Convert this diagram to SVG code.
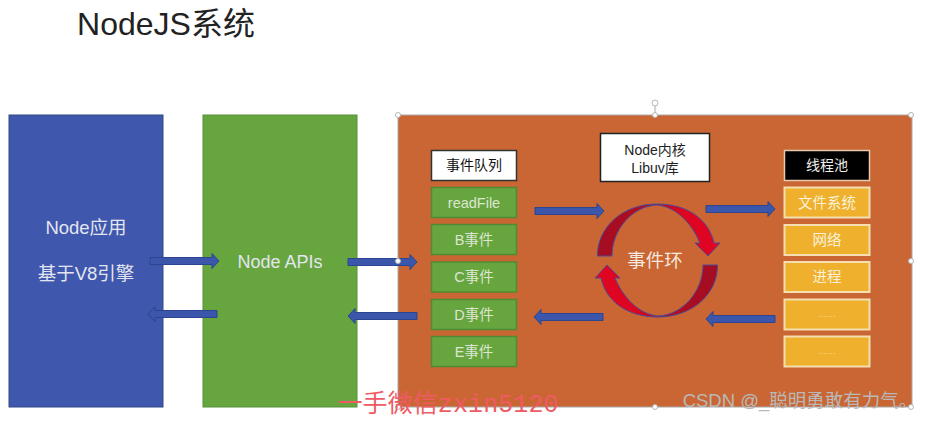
<svg xmlns="http://www.w3.org/2000/svg" width="925" height="421" viewBox="0 0 925 421">
<style>
text{font-family:"Liberation Sans","Noto Sans CJK SC",sans-serif;text-anchor:middle}
.big{fill:#e3e6f0;font-size:18.500px}
.q{fill:#67a53f;stroke:#4f8a35;stroke-width:1.5}
.qt{fill:#dde6d0;font-size:14.500px}
.y{fill:#eeb02d;stroke:#f5dfb0;stroke-width:2}
.yt{fill:#fbf1d8;font-size:14.500px}
.hd{fill:#111;font-size:14px}
.a{fill:#3c56ab;stroke:#2b4590;stroke-width:1}
.h{fill:#fff;stroke:#b5b5b5;stroke-width:1}
.ring{fill:url(#rg);stroke:#4b4a96;stroke-width:1}
</style>
<defs>
<linearGradient id="rg" gradientUnits="userSpaceOnUse" x1="600" y1="230" x2="715" y2="230">
<stop offset="0" stop-color="#a30d22"/><stop offset="0.5" stop-color="#b50c22"/><stop offset="0.7" stop-color="#dc0522"/><stop offset="1" stop-color="#e00422"/>
</linearGradient>
<polygon id="ar" points="0,-3.500 62,-3.500 62,-7.500 69,0 62,7.500 62,3.500 0,3.500"/>
</defs>
<rect width="925" height="421" fill="#fff"/>
<text id="title" x="166" y="35" style="font-size:32px;fill:#222">NodeJS系统</text>
<g id="node-app">
<rect x="9" y="115" width="154" height="292" fill="#3f57ac" stroke="#2f4a86"/>
<text class="big" x="86" y="234">Node应用</text>
<text class="big" x="86" y="280">基于V8引擎</text>
</g>
<g id="node-apis">
<rect x="203" y="115" width="154" height="292" fill="#67a53f" stroke="#55913a"/>
<text x="280" y="268" style="font-size:18px;fill:#e3e6f0">Node APIs</text>
</g>
<g id="node-kernel">
<rect x="398" y="115" width="514" height="292" fill="#c96633" stroke="#a8a8a8"/>
<rect x="600.500" y="133.500" width="109" height="48" fill="#fff" stroke="#222" stroke-width="1.500"/>
<text x="655" y="155" style="font-size:14px;fill:#222">Node内核</text>
<text x="655" y="173" style="font-size:14px;fill:#222">Libuv库</text>
</g>
<g id="queue-head"><rect x="431.500" y="150.500" width="85" height="30" fill="#fff" stroke="#333" stroke-width="1.500"/><text class="hd" x="474" y="170">事件队列</text></g>
<g id="q-readfile"><rect class="q" x="431.500" y="187.500" width="85" height="30"/><text class="qt" x="474" y="208">readFile</text></g>
<g id="q-b"><rect class="q" x="431.500" y="224.500" width="85" height="30"/><text class="qt" x="474" y="245">B事件</text></g>
<g id="q-c"><rect class="q" x="431.500" y="262" width="85" height="30"/><text class="qt" x="474" y="282">C事件</text></g>
<g id="q-d"><rect class="q" x="431.500" y="299.500" width="85" height="30"/><text class="qt" x="474" y="320">D事件</text></g>
<g id="q-e"><rect class="q" x="431.500" y="336.500" width="85" height="30"/><text class="qt" x="474" y="357">E事件</text></g>
<g id="pool-head"><rect x="784.500" y="150.500" width="85" height="30" fill="#000" stroke="#e8c9b0" stroke-width="1.500"/><text x="827" y="170" style="font-size:14px;fill:#eee">线程池</text></g>
<g id="p-fs"><rect class="y" x="784.500" y="187.500" width="85" height="30"/><text class="yt" x="827" y="208">文件系统</text></g>
<g id="p-net"><rect class="y" x="784.500" y="225" width="85" height="30"/><text class="yt" x="827" y="245">网络</text></g>
<g id="p-proc"><rect class="y" x="784.500" y="262" width="85" height="30"/><text class="yt" x="827" y="282">进程</text></g>
<g id="p-d1"><rect class="y" x="784.500" y="299.500" width="85" height="30"/><text x="827" y="317" style="font-size:9px;fill:#f6dd9a">……</text></g>
<g id="p-d2"><rect class="y" x="784.500" y="336.500" width="85" height="30"/><text x="827" y="354" style="font-size:9px;fill:#f6dd9a">……</text></g>
<g id="event-loop">
<path class="ring" d="M597.500,256 C597,228 622,204 657,204 C688,204 709,220 714,243 L720,243 L708,256 L695,243 L700,243 C692,224 677,207 657,205 C632,206 612,230 612,256 Z"/>
<path class="ring" transform="rotate(180 657.500 260.500)" d="M597.500,256 C597,228 622,204 657,204 C688,204 709,220 714,243 L720,243 L708,256 L695,243 L700,243 C692,224 677,207 657,205 C632,206 612,230 612,256 Z"/>
<text x="655" y="267" style="font-size:18.500px;fill:#f4e8df">事件环</text>
</g>
<g id="connectors">
<use href="#ar" class="a" x="150" y="261"/>
<use href="#ar" class="a" transform="translate(217 314) scale(-1 1)"/>
<use href="#ar" class="a" x="348" y="262"/>
<use href="#ar" class="a" transform="translate(417 316) scale(-1 1)"/>
<use href="#ar" class="a" x="535" y="211"/>
<use href="#ar" class="a" transform="translate(603 317) scale(-1 1)"/>
<use href="#ar" class="a" x="706" y="209"/>
<use href="#ar" class="a" transform="translate(775 319) scale(-1 1)"/>
</g>
<g id="handles">
<line x1="655" y1="106" x2="655" y2="115" stroke="#aaa"/>
<circle class="h" cx="655" cy="103" r="3"/>
<circle class="h" cx="398" cy="115" r="2.500"/>
<circle class="h" cx="655" cy="115" r="2.500"/>
<circle class="h" cx="911" cy="115" r="2.500"/>
<circle class="h" cx="398" cy="261" r="2.500"/>
<circle class="h" cx="911" cy="261" r="2.500"/>
<circle class="h" cx="398" cy="407" r="2.500"/>
<circle class="h" cx="655" cy="407" r="2.500"/>
<circle class="h" cx="911" cy="407" r="2.500"/>
</g>
<text id="wm-red" x="448" y="412" textLength="221" style="font-size:25px;fill:#ef5a64;font-family:'Liberation Mono','Noto Sans CJK SC',monospace">一手微信zxin5120</text>
<text id="wm-csdn" x="800" y="407" style="font-size:18.500px;fill:#b9b9b9">CSDN @_聪明勇敢有力气。</text>
</svg>
